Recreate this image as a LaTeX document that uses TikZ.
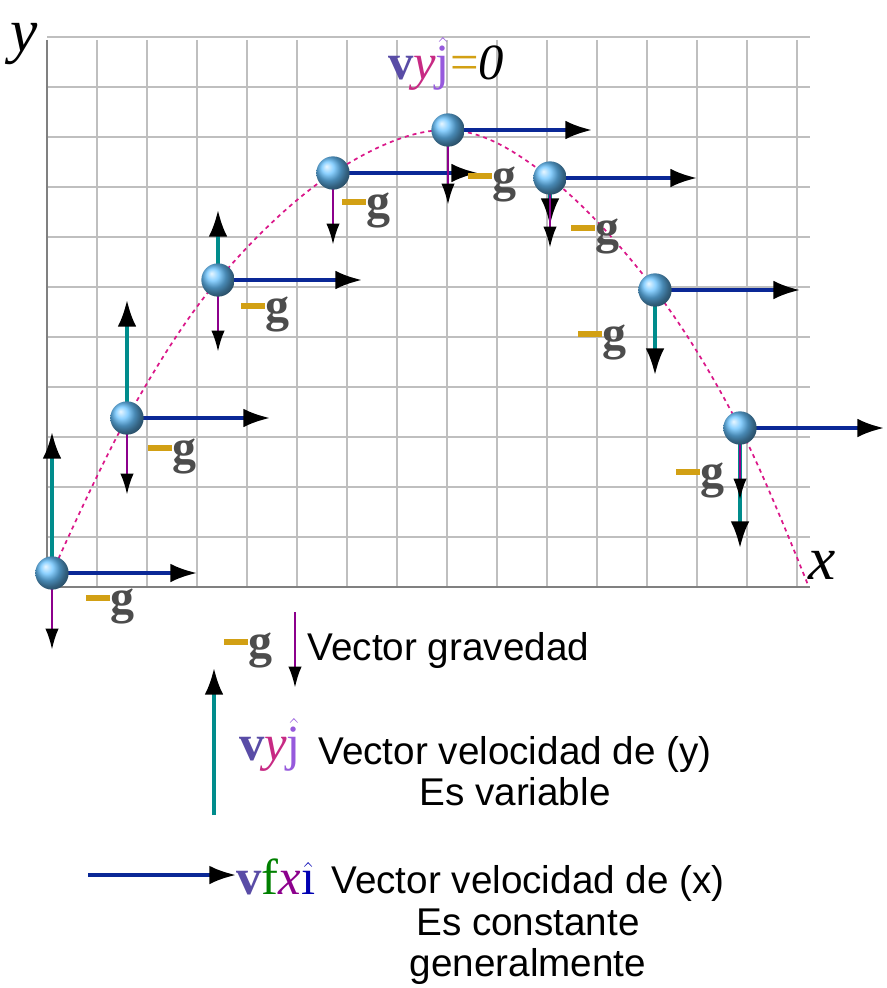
\documentclass[tikz,border=0pt]{standalone}
\usepackage{fontspec}
\setmainfont{Liberation Sans}
\newfontfamily\gfont{Liberation Serif}
\usetikzlibrary{arrows.meta,shadings}
\definecolor{vx}{RGB}{10,40,150}
\definecolor{vy}{RGB}{0,140,140}
\definecolor{gv}{RGB}{140,0,140}
\definecolor{gold}{RGB}{210,160,20}
\definecolor{jcol}{RGB}{150,90,220}
\newcommand{\mg}{{\gfont\textcolor{gold}{\rule[0.25em]{0.5em}{0.12em}}\textcolor{black!70}{\textbf{g}}}}
\newcommand{\vyj}{{\gfont\textcolor{violet!70!cyan}{\textbf{v}}\textcolor{magenta!80!black}{\textit{y}}\textcolor{jcol}{$\hat{\textrm{\gfont j}}$}}}
\newcommand{\vfxi}{{\gfont\textcolor{violet!70!cyan}{\textbf{v}}\textcolor{green!50!black}{f}\textcolor{gv}{\textit{x}}\textcolor{blue!70!black}{$\hat{\textrm{\gfont\i}}$}}}
\tikzset{
 every node/.style={inner sep=1pt},
 ar/.style={line width=2.4pt,-{Latex[length=20pt,width=14pt,fill=black,color=black]},draw},
 hx/.style={ar,vx},
 vyar/.style={ar,vy},
 gar/.style={line width=2pt,-{Latex[length=16pt,width=10pt,fill=black,color=black]},gv},
 ball/.style={circle,minimum size=25pt,ball color=blue!40!cyan!60,draw=none},
 glab/.style={font=\fontsize{36}{36}\selectfont},
 sym/.style={font=\fontsize{38}{38}\selectfont},
 txt/.style={font=\fontsize{29}{31}\selectfont,align=center}
}
\begin{document}
\begin{tikzpicture}[x=0.75pt,y=-0.75pt]
\useasboundingbox (0,0) rectangle (886,988);
% grid
\foreach \x in {97,147,...,810} \draw[gray!50,line width=0.8pt] (\x,40) -- (\x,587);
\foreach \y in {37,87,...,540} \draw[gray!50,line width=0.8pt] (47,\y) -- (810,\y);
\draw[gray,line width=1.2pt] (47,40) -- (47,587) -- (810,587);
\node[font=\fontsize{46}{46}\selectfont\itshape\gfont] (ylab) at (24,44) {y};
\node[font=\fontsize{46}{46}\selectfont\itshape\gfont] (xlab) at (822,565) {x};
% trajectory
\draw[magenta!80!violet,dashed,line width=1.3pt] plot[smooth,tension=0.6] coordinates {(52,573) (127,418) (218,280) (333,173) (448,130) (550,178) (655,290) (740,428) (808,585)};
% balls
\foreach \n/\x/\y in {1/52/573,2/127/418,3/218/280,4/333/173,5/448/130,6/550/178,7/655/290,8/740/428}
  \coordinate (b\n) at (\x,\y);
% horizontal velocities
\foreach \n/\t in {1/197,2/270,3/362,4/478,5/592,6/697,7/800,8/884}{
  \coordinate (h\n) at (\t,0);
  \draw[hx] (b\n) -- (b\n -| h\n);}
% vertical velocities
\foreach \n/\t in {1/432,2/300,3/210,4/160}{
  \coordinate (u\n) at (0,\t);
  \draw[vyar] (b\n) -- (b\n |- u\n);}
\coordinate (u6) at (0,225); \draw[vyar] (b6) -- (b6 |- u6);
\coordinate (u7) at (0,375); \draw[vyar] (b7) -- (b7 |- u7);
\coordinate (u8) at (0,548); \draw[vyar] (b8) -- (b8 |- u8);
% gravity
\foreach \n/\t in {1/650,2/495,3/352,4/245,5/205,6/248,8/500}{
  \coordinate (g\n) at (0,\t);
  \draw[gar] (b\n) -- (b\n |- g\n);}
\foreach \n in {1,...,8} \node[ball] (ball\n) at (b\n) {};
% -g labels
\foreach \n/\x/\y in {1/110/606,2/172/456,3/265/314,4/366/210,5/492/184,6/595/236,7/602/342,8/700/480}
  \node[glab] (ml\n) at (\x,\y) {\mg};
\node[sym] (top) at (446,64) {\vyj{\gfont\textcolor{gold}{=}}\textit{\gfont 0}};
% legend
\node[glab] (lg) at (248,650) {\mg};
\coordinate (la) at (295,612); \coordinate (lb) at (295,688);
\draw[gar] (la) -- (lb);
\node[txt,anchor=west] (lgt) at (306,650) {Vector gravedad};
\coordinate (ta) at (214,815); \coordinate (tb) at (214,668);
\draw[vyar] (ta) -- (tb);
\node[sym] (lvy) at (270,745) {\vyj};
\node[txt] (lvyt) at (515,771) {Vector velocidad de (y)\\Es variable};
\coordinate (xa) at (88,875); \coordinate (xb) at (236,875);
\draw[hx] (xa) -- (xb);
\node[sym] (lvx) at (276,877) {\vfxi};
\node[txt] (lvxt) at (528,925) {Vector velocidad de (x)\\Es constante\\generalmente};
\end{tikzpicture}
\end{document}
